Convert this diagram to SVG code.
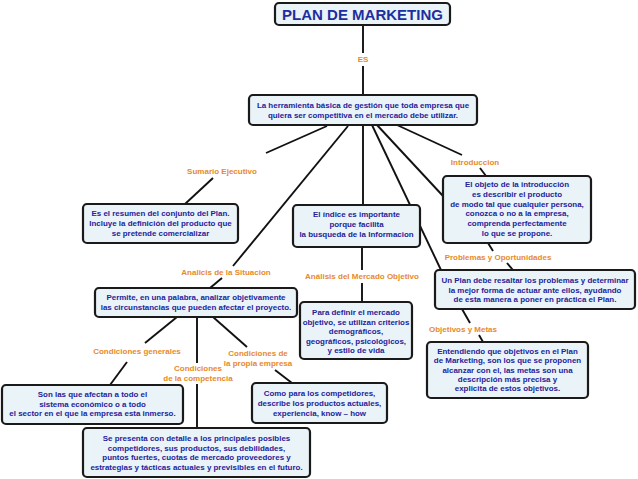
<svg xmlns="http://www.w3.org/2000/svg" width="638" height="479" viewBox="0 0 638 479">
<style>
.box{fill:#eaf3f8;stroke:#1a1a1a;stroke-width:2.2}
.t{font-family:"Liberation Sans",Arial,sans-serif;font-weight:bold;font-size:7.95px;fill:#23239a;text-anchor:middle}
.title{font-family:"Liberation Sans",Arial,sans-serif;font-weight:bold;font-size:15px;fill:#1d2f9e;text-anchor:middle}
.lb{font-family:"Liberation Sans",Arial,sans-serif;font-weight:bold;font-size:8px;fill:#e8892a;text-anchor:middle}
.c{stroke:#111;stroke-width:1.9;fill:none}
</style>
<rect width="638" height="479" fill="#fff"/>
<g id="connectors">
<line class="c" x1="363" y1="25" x2="363" y2="53"/>
<line class="c" x1="363" y1="66" x2="363" y2="95"/>
<line class="c" x1="327" y1="126" x2="266" y2="153"/>
<line class="c" x1="213" y1="178" x2="185" y2="204"/>
<line class="c" x1="348" y1="126" x2="233" y2="266"/>
<line class="c" x1="222" y1="278" x2="210" y2="288"/>
<line class="c" x1="363" y1="125" x2="363" y2="205"/>
<line class="c" x1="372" y1="125" x2="441" y2="270"/>
<line class="c" x1="377" y1="125" x2="443" y2="196"/>
<line class="c" x1="397" y1="125" x2="462" y2="155"/>
<line class="c" x1="480" y1="168" x2="486" y2="176"/>
<line class="c" x1="488" y1="243" x2="493" y2="251"/>
<line class="c" x1="507" y1="263" x2="513" y2="270"/>
<line class="c" x1="462" y1="309" x2="470" y2="323"/>
<line class="c" x1="479" y1="335" x2="483" y2="342"/>
<line class="c" x1="362" y1="247" x2="362" y2="270"/>
<line class="c" x1="362" y1="283" x2="362" y2="302"/>
<line class="c" x1="177" y1="317" x2="145" y2="343"/>
<line class="c" x1="127" y1="362" x2="110" y2="385"/>
<line class="c" x1="197" y1="317" x2="197" y2="363"/>
<line class="c" x1="197" y1="384" x2="197" y2="428"/>
<line class="c" x1="213" y1="317" x2="247" y2="347"/>
<line class="c" x1="275" y1="370" x2="292" y2="383"/>
</g>
<g id="labels">
<text class="lb" x="363" y="62">ES</text>
<text class="lb" x="222" y="174">Sumario Ejecutivo</text>
<text class="lb" x="226" y="275">Analicis de la Situacion</text>
<text class="lb" x="362" y="279">Análisis del Mercado Objetivo</text>
<text class="lb" x="475" y="165">Introduccion</text>
<text class="lb" x="498" y="260">Problemas y Oportunidades</text>
<text class="lb" x="463" y="332">Objetivos y Metas</text>
<text class="lb" x="137" y="354">Condiciones generales</text>
<text class="lb" x="198" y="371">Condiciones</text>
<text class="lb" x="198" y="381">de la competencia</text>
<text class="lb" x="258" y="356">Condiciones de</text>
<text class="lb" x="258" y="366">la propia empresa</text>
</g>
<g id="n-title">
<rect class="box" x="275" y="3" width="175" height="22" rx="4"/>
<text class="title" x="362.5" y="19.5">PLAN DE MARKETING</text>
</g>
<g id="n-main">
<rect class="box" x="249" y="95" width="228" height="30" rx="4"/>
<text class="t" x="363" y="108">La herramienta básica de gestión que toda empresa que</text>
<text class="t" x="363" y="118">quiera ser competitiva en el mercado debe utilizar.</text>
</g>
<g id="n-sumario">
<rect class="box" x="83" y="204" width="155" height="39" rx="4"/>
<text class="t" x="160.5" y="216">Es el resumen del conjunto del Plan.</text>
<text class="t" x="160.5" y="226">Incluye la definición del producto que</text>
<text class="t" x="160.5" y="236">se pretende comercializar</text>
</g>
<g id="n-indice">
<rect class="box" x="293" y="205" width="127" height="42" rx="4"/>
<text class="t" x="356.5" y="217">El índice es importante</text>
<text class="t" x="356.5" y="227">porque facilita</text>
<text class="t" x="356.5" y="237">la busqueda de la Informacion</text>
</g>
<g id="n-intro">
<rect class="box" x="443" y="176" width="148" height="67" rx="4"/>
<text class="t" x="517" y="187">El objeto de la introducción</text>
<text class="t" x="517" y="196.8">es describir el producto</text>
<text class="t" x="517" y="206.6">de modo tal que cualquier persona,</text>
<text class="t" x="517" y="216.4">conozca o no a la empresa,</text>
<text class="t" x="517" y="226.2">comprenda perfectamente</text>
<text class="t" x="517" y="236">lo que se propone.</text>
</g>
<g id="n-problemas">
<rect class="box" x="435" y="270" width="200" height="39" rx="4"/>
<text class="t" x="535" y="283">Un Plan debe resaltar los problemas y determinar</text>
<text class="t" x="535" y="292.5">la mejor forma de actuar ante ellos, ayudando</text>
<text class="t" x="535" y="302">de esta manera a poner en práctica el Plan.</text>
</g>
<g id="n-objetivos">
<rect class="box" x="427" y="342" width="161" height="56" rx="4"/>
<text class="t" x="507.5" y="354">Entendiendo que objetivos en el Plan</text>
<text class="t" x="507.5" y="363.3">de Marketing, son los que se proponen</text>
<text class="t" x="507.5" y="372.6">alcanzar con el, las metas son una</text>
<text class="t" x="507.5" y="381.9">descripción más precisa y</text>
<text class="t" x="507.5" y="391.2">explicita de estos objetivos.</text>
</g>
<g id="n-mercado">
<rect class="box" x="300" y="302" width="112" height="57" rx="4"/>
<text class="t" x="356" y="315">Para definir el mercado</text>
<text class="t" x="356" y="324.5">objetivo, se utilizan criterios</text>
<text class="t" x="356" y="334">demográficos,</text>
<text class="t" x="356" y="343.5">geográficos, psicológicos,</text>
<text class="t" x="356" y="353">y estilo de vida</text>
</g>
<g id="n-situacion">
<rect class="box" x="95" y="288" width="202" height="29" rx="4"/>
<text class="t" x="196" y="300">Permite, en una palabra, analizar objetivamente</text>
<text class="t" x="196" y="310">las circunstancias que pueden afectar el proyecto.</text>
</g>
<g id="n-generales">
<rect class="box" x="2" y="385" width="181" height="39" rx="4"/>
<text class="t" x="92.5" y="397">Son las que afectan a todo el</text>
<text class="t" x="92.5" y="406.5">sistema económico o a todo</text>
<text class="t" x="92.5" y="416">el sector en el que la empresa esta inmerso.</text>
</g>
<g id="n-competencia">
<rect class="box" x="83" y="428" width="227" height="49" rx="4"/>
<text class="t" x="196.5" y="441">Se presenta con detalle a los principales posibles</text>
<text class="t" x="196.5" y="450.5">competidores, sus productos, sus debilidades,</text>
<text class="t" x="196.5" y="460">puntos fuertes, cuotas de mercado proveedores y</text>
<text class="t" x="196.5" y="469.5">estrategias y tácticas actuales y previsibles en el futuro.</text>
</g>
<g id="n-propia">
<rect class="box" x="252" y="383" width="135" height="40" rx="4"/>
<text class="t" x="319.5" y="396">Como para los competidores,</text>
<text class="t" x="319.5" y="406">describe los productos actuales,</text>
<text class="t" x="319.5" y="416">experiencia, know – how</text>
</g>
</svg>
